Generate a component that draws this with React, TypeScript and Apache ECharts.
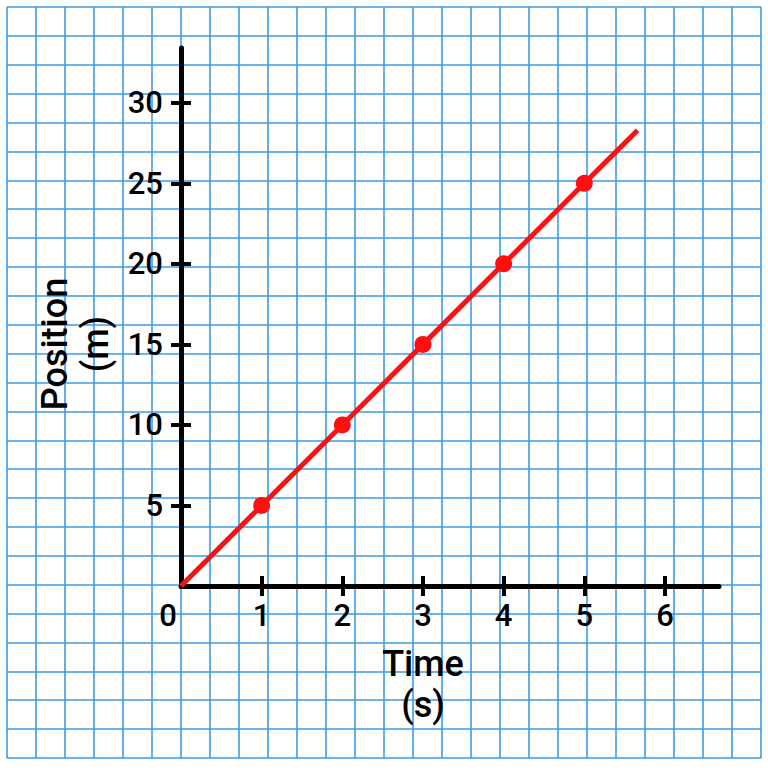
import React, { useEffect, useRef } from "react";
import * as echarts from "echarts";

// Data
const timeS = [0, 1, 2, 3, 4, 5];
const positionM = [0, 5, 10, 15, 20, 25];
const lineEnd = [5.66, 28.3];
const xTickValues = [1, 2, 3, 4, 5, 6];
const xLabelValues = [0, 1, 2, 3, 4, 5, 6];
const yTickValues = [5, 10, 15, 20, 25, 30];

const FONT = "Roboto, 'DejaVu Sans', sans-serif";
const BLUE = "#3d9be6";
const RED = "#ff1010";

export default function App() {
  const ref = useRef<HTMLDivElement>(null);
  useEffect(() => {
    document.body.style.margin = "0";
    const chart = echarts.init(ref.current!, null, { renderer: "svg" });
    const linePts = timeS.map((t, i) => [t, positionM[i]]);
    linePts.push([lineEnd[0], lineEnd[1]]);
    const dots = timeS.slice(1).map((t, i) => [t, positionM[i + 1]]);
    const tickCommon = { show: true, length: 10, lineStyle: { color: "#000", width: 4 } };
    chart.setOption({
      animation: false,
      backgroundColor: "#fff",
      grid: [
        { left: 7, top: 7, width: 754, height: 751, containLabel: false, outerBoundsMode: "none" },
        { left: 181, top: 48, width: 538, height: 538, containLabel: false, outerBoundsMode: "none" },
      ],
      xAxis: [
        {
          type: "value", gridIndex: 0, min: 0, max: 26, interval: 1, z: 0,
          axisLine: { show: false }, axisTick: { show: false }, axisLabel: { show: false },
          splitLine: { show: true, lineStyle: { color: BLUE, width: 1.6 } },
        },
        {
          type: "value", gridIndex: 1, min: 0, max: 6.67, interval: 1, position: "bottom", z: 5,
          axisLine: { show: true, onZero: false, lineStyle: { color: "#000", width: 5 } },
          axisTick: { ...tickCommon, inside: false, customValues: xTickValues },
          axisLabel: {
            show: true, customValues: xLabelValues, margin: 14,
            fontSize: 31, fontFamily: FONT, fontWeight: 500, color: "#000",
            formatter: (v: number) => (v === 0 ? "{z|0}" : String(v)),
            rich: { z: { fontSize: 31, fontFamily: FONT, fontWeight: 500, color: "#000", padding: [0, 26, 0, 0] } },
          },
          splitLine: { show: false },
          name: "Time\n(s)", nameLocation: "middle", nameGap: 57,
          nameTextStyle: { fontSize: 36, fontFamily: FONT, fontWeight: 500, color: "#000", lineHeight: 41, padding: [0, 54, 0, 0] },
        },
        {
          type: "value", gridIndex: 1, min: 0, max: 6.67, interval: 1, position: "bottom", z: 5,
          axisLine: { show: false, onZero: false },
          axisTick: { ...tickCommon, inside: true, customValues: xTickValues },
          axisLabel: { show: false },
          splitLine: { show: false },
        },
      ],
      yAxis: [
        {
          type: "value", gridIndex: 0, min: 0, max: 26, interval: 1, z: 0,
          axisLine: { show: false }, axisTick: { show: false }, axisLabel: { show: false },
          splitLine: { show: true, lineStyle: { color: BLUE, width: 1.6 } },
        },
        {
          type: "value", gridIndex: 1, min: 0, max: 33.4, interval: 5, position: "left", z: 5,
          axisLine: { show: true, onZero: false, lineStyle: { color: "#000", width: 5 } },
          axisTick: { ...tickCommon, inside: false, customValues: yTickValues },
          axisLabel: {
            show: true, customValues: yTickValues, margin: 18,
            fontSize: 31, fontFamily: FONT, fontWeight: 500, color: "#000",
          },
          splitLine: { show: false },
          name: "Position\n(m)", nameLocation: "middle", nameGap: 62, nameRotate: 90,
          nameTextStyle: { fontSize: 36, fontFamily: FONT, fontWeight: 500, color: "#000", lineHeight: 41, padding: [0, 54, 0, 0] },
        },
        {
          type: "value", gridIndex: 1, min: 0, max: 33.4, interval: 5, position: "left", z: 5,
          axisLine: { show: false, onZero: false },
          axisTick: { ...tickCommon, inside: true, customValues: yTickValues },
          axisLabel: { show: false },
          splitLine: { show: false },
        },
      ],
      series: [
        {
          type: "line", xAxisIndex: 1, yAxisIndex: 1, data: linePts, showSymbol: false,
          lineStyle: { color: RED, width: 5 }, z: 10, clip: false,
        },
        {
          type: "scatter", xAxisIndex: 1, yAxisIndex: 1, data: dots, symbolSize: 17,
          itemStyle: { color: RED, opacity: 1 }, z: 11,
        },
      ],
    });
    return () => chart.dispose();
  }, []);
  return <div ref={ref} style={{ position: "absolute", left: 0, top: 0, width: 768, height: 768 }} />;
}
